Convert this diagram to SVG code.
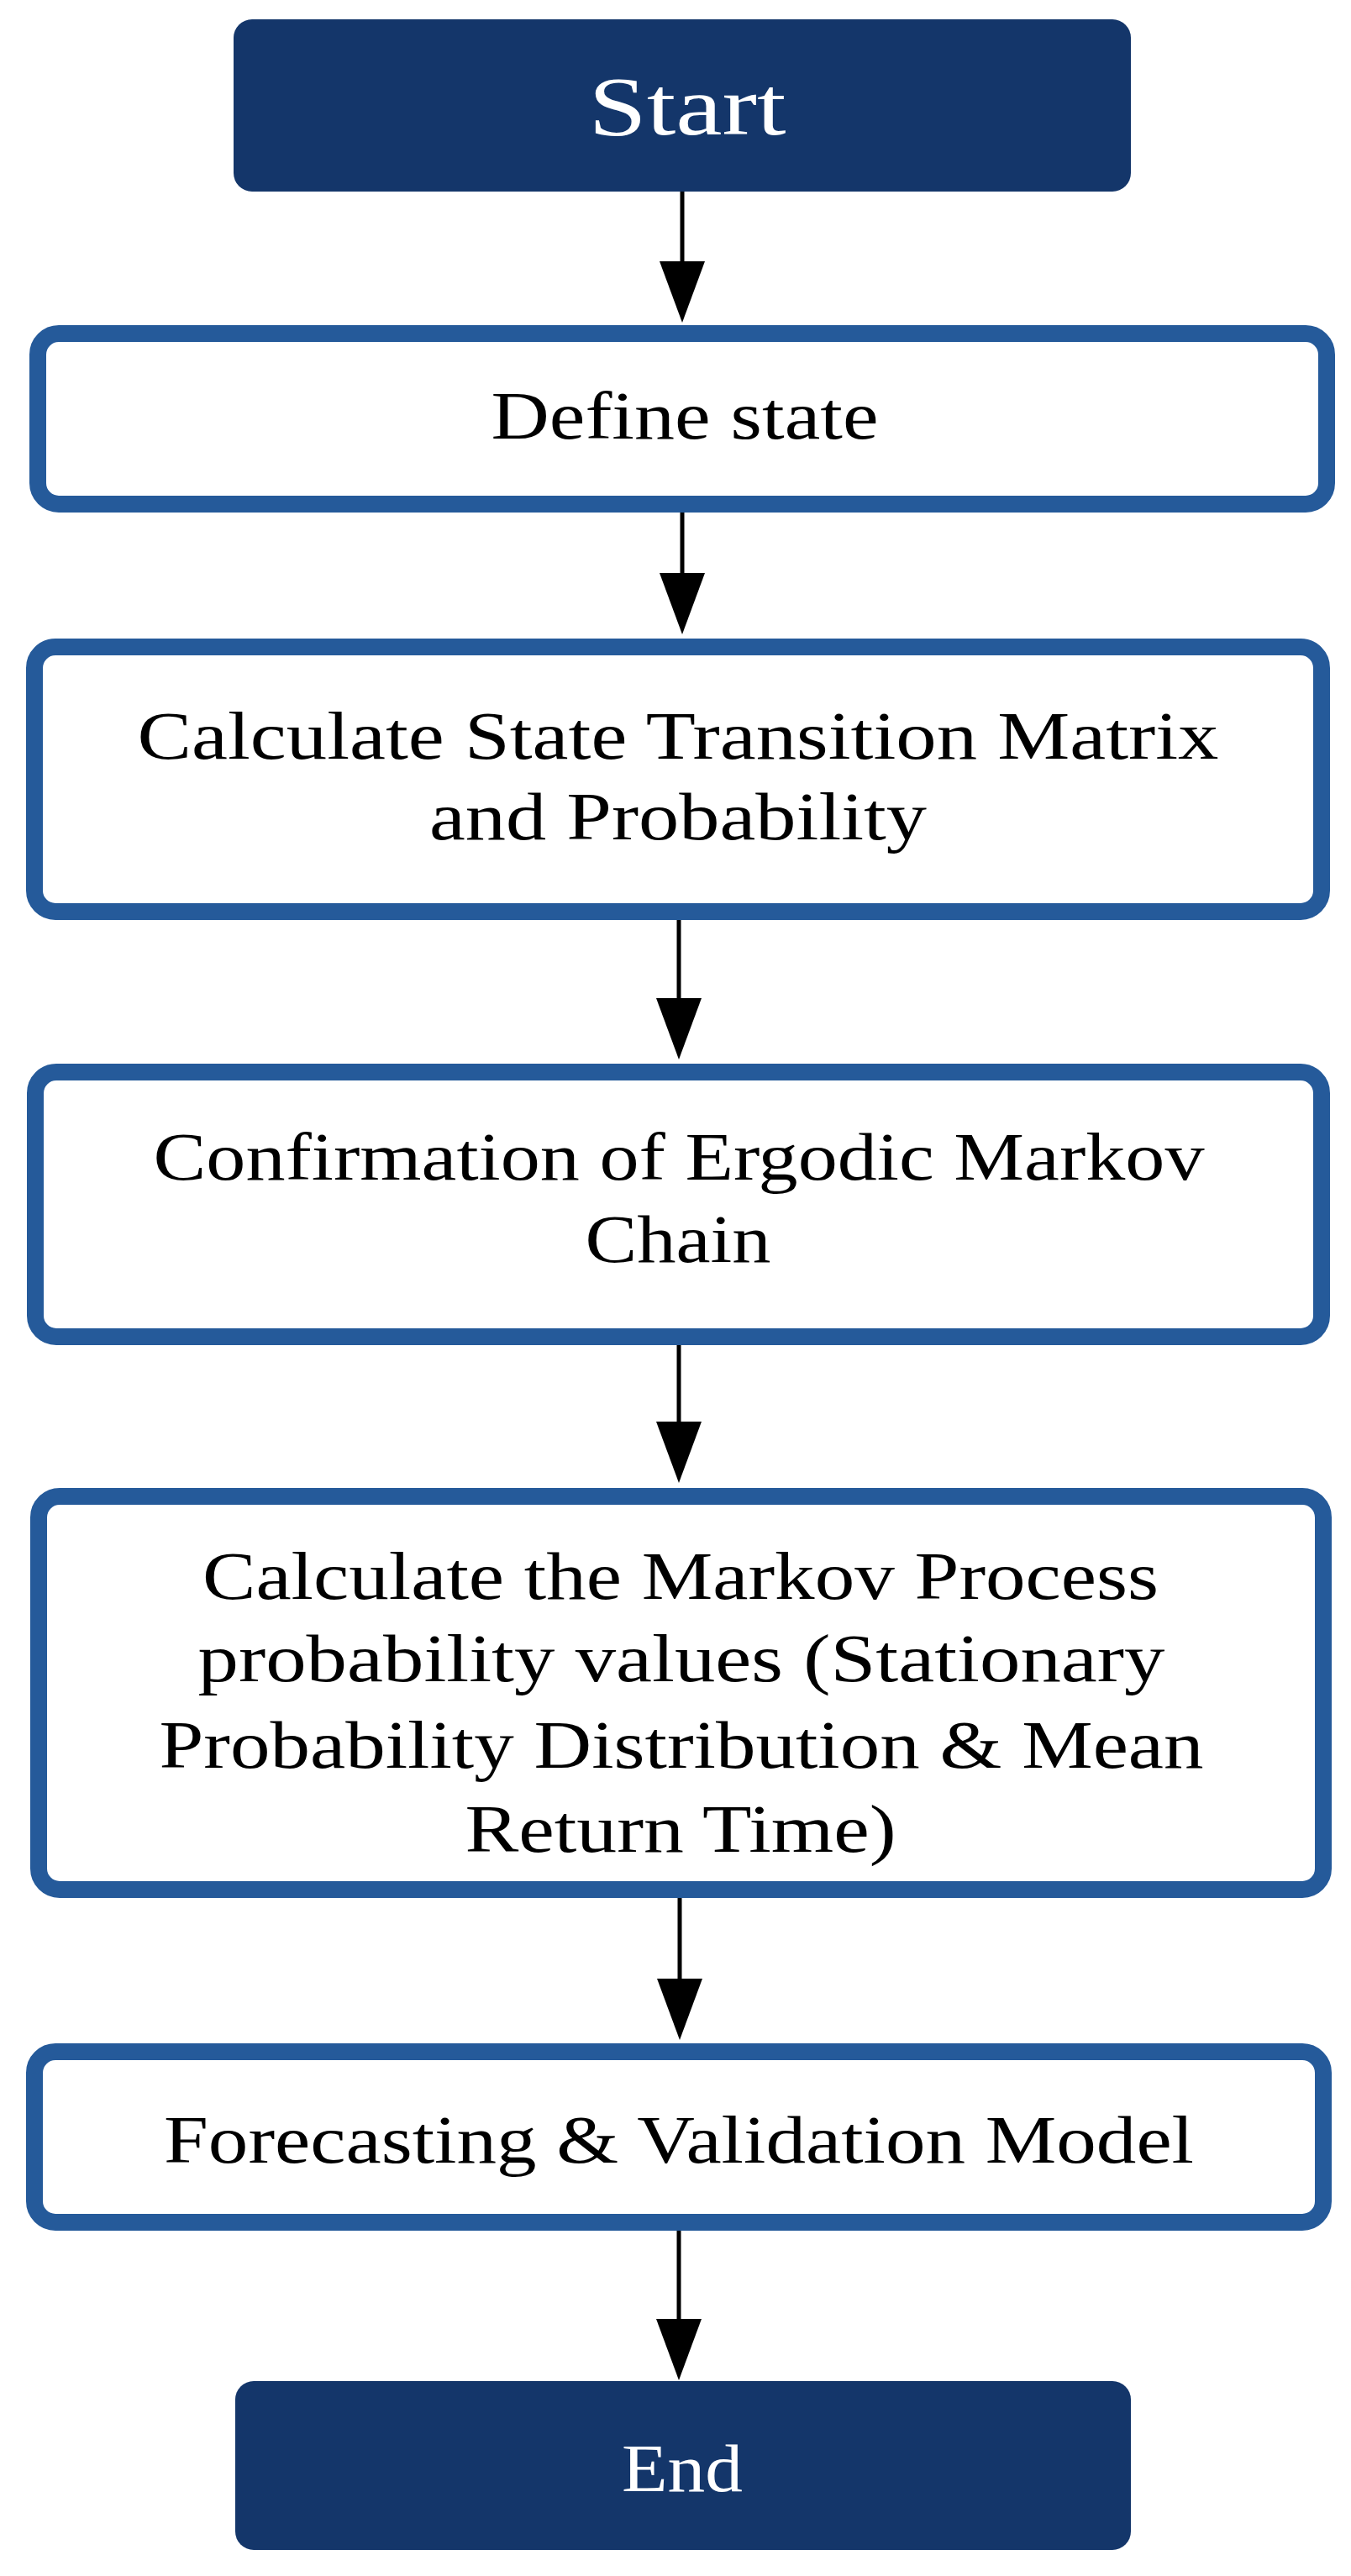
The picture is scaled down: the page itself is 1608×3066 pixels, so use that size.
<svg xmlns="http://www.w3.org/2000/svg" width="1608" height="3066" viewBox="0 0 1608 3066">
<style>
.term{fill:#14366a;}
.proc{fill:#ffffff;stroke:#255a9a;stroke-width:20;}
.t{font-family:"Liberation Serif","Times New Roman",serif;font-size:80px;fill:#000000;text-anchor:middle;}
.tw{font-family:"Liberation Serif","Times New Roman",serif;fill:#ffffff;text-anchor:middle;}
.conn{stroke:#000000;stroke-width:5;fill:none;}
</style>
<defs>
<marker id="ah" viewBox="0 0 73 54" refX="1" refY="27" markerWidth="73" markerHeight="54" markerUnits="userSpaceOnUse" orient="auto">
<path d="M0,0 L73,27 L0,54 Z" fill="#000000"/>
</marker>
</defs>
<rect width="1608" height="3066" fill="#ffffff"/>
<g id="connectors">
<line class="conn" x1="812" y1="228" x2="812" y2="312" marker-end="url(#ah)"/>
<line class="conn" x1="812" y1="610" x2="812" y2="683" marker-end="url(#ah)"/>
<line class="conn" x1="808" y1="1095" x2="808" y2="1189" marker-end="url(#ah)"/>
<line class="conn" x1="808" y1="1601" x2="808" y2="1693" marker-end="url(#ah)"/>
<line class="conn" x1="809" y1="2259" x2="809" y2="2356" marker-end="url(#ah)"/>
<line class="conn" x1="808" y1="2655" x2="808" y2="2761" marker-end="url(#ah)"/>
</g>
<g id="start">
<rect class="term" x="278" y="23" width="1068" height="205" rx="22"/>
<text class="tw" x="818" y="160" font-size="100" textLength="235" lengthAdjust="spacingAndGlyphs">Start</text>
</g>
<g id="define-state">
<rect class="proc" x="45" y="397" width="1534" height="203" rx="25"/>
<text class="t" x="815" y="522" textLength="461" lengthAdjust="spacingAndGlyphs">Define state</text>
</g>
<g id="transition-matrix">
<rect class="proc" x="41" y="770" width="1532" height="315" rx="25"/>
<text class="t" x="807" y="903" textLength="1287" lengthAdjust="spacingAndGlyphs">Calculate State Transition Matrix</text>
<text class="t" x="807" y="999" textLength="592" lengthAdjust="spacingAndGlyphs">and Probability</text>
</g>
<g id="ergodic">
<rect class="proc" x="42" y="1276" width="1531" height="315" rx="25"/>
<text class="t" x="808" y="1404" textLength="1251" lengthAdjust="spacingAndGlyphs">Confirmation of Ergodic Markov</text>
<text class="t" x="807" y="1502" textLength="221" lengthAdjust="spacingAndGlyphs">Chain</text>
</g>
<g id="markov-process">
<rect class="proc" x="46" y="1781" width="1529" height="468" rx="25"/>
<text class="t" x="810" y="1903" textLength="1138" lengthAdjust="spacingAndGlyphs">Calculate the Markov Process</text>
<text class="t" x="811" y="2001" textLength="1151" lengthAdjust="spacingAndGlyphs">probability values (Stationary</text>
<text class="t" x="811" y="2104" textLength="1243" lengthAdjust="spacingAndGlyphs">Probability Distribution &amp; Mean</text>
<text class="t" x="810" y="2204" textLength="513" lengthAdjust="spacingAndGlyphs">Return Time)</text>
</g>
<g id="forecasting">
<rect class="proc" x="41" y="2442" width="1534" height="203" rx="25"/>
<text class="t" x="808" y="2574" textLength="1226" lengthAdjust="spacingAndGlyphs">Forecasting &amp; Validation Model</text>
</g>
<g id="end">
<rect class="term" x="280" y="2834" width="1066" height="201" rx="22"/>
<text class="tw" x="812" y="2965" font-size="80" textLength="144" lengthAdjust="spacingAndGlyphs">End</text>
</g>
</svg>
